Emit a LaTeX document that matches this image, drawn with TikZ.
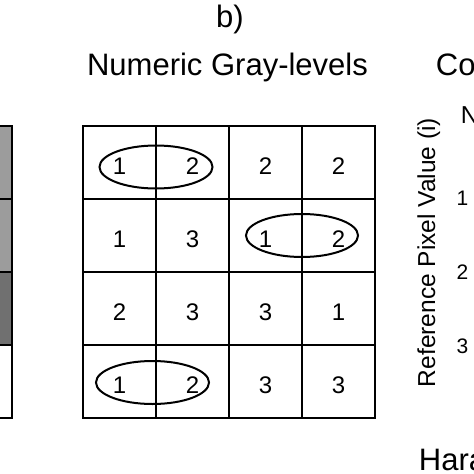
\documentclass[tikz,border=0pt]{standalone}
\usepackage{fontspec}
\setmainfont{Liberation Sans}
\usetikzlibrary{positioning,calc}
\definecolor{leveldark}{RGB}{112,112,112}
\definecolor{levelmid}{RGB}{156,156,156}

\begin{document}
\begin{tikzpicture}[x=1pt, y=-1pt, node distance=0pt, line width=1.8pt,
    cell/.style={rectangle, draw, outer sep=0pt, inner sep=0pt, minimum width=73pt, minimum height=73pt, text height=23pt, text depth=0pt, font=\fontsize{24}{28}\selectfont},
    heading/.style={inner sep=0pt, font=\fontsize{31}{36}\selectfont},
    axislabel/.style={inner sep=0pt, font=\fontsize{24.5}{28}\selectfont},
    pairring/.style={draw, line width=2pt}]
        \path[use as bounding box] (0,0) rectangle (474,474);
        \clip (0,0) rectangle (474,474);

        \node[heading, anchor=base] (panel) at (230,27) {b)};
        \node[heading, anchor=base] (title) at (227.5,75) {Numeric Gray-levels};
        \node[heading, anchor=base west] (cotitle) at (435,75) {Co};

        % numeric grid
        \node[cell] (c11) at (119.5,162.5) {1};
        \node[cell, right=of c11] (c12) {2};
        \node[cell, right=of c12] (c13) {2};
        \node[cell, right=of c13] (c14) {2};
        \node[cell, below=of c11] (c21) {1};
        \node[cell, right=of c21] (c22) {3};
        \node[cell, right=of c22] (c23) {1};
        \node[cell, right=of c23] (c24) {2};
        \node[cell, below=of c21] (c31) {2};
        \node[cell, right=of c31] (c32) {3};
        \node[cell, right=of c32] (c33) {3};
        \node[cell, right=of c33] (c34) {1};
        \node[cell, below=of c31] (c41) {1};
        \node[cell, right=of c41] (c42) {2};
        \node[cell, right=of c42] (c43) {3};
        \node[cell, right=of c43] (c44) {3};

        % gray-level image (cut at the left edge)
        \node[cell, fill=levelmid, left=71pt of c11] (g1) {};
        \node[cell, fill=levelmid, below=of g1] (g2) {};
        \node[cell, fill=leveldark, below=of g2] (g3) {};
        \node[cell, fill=white, below=of g3] (g4) {};

        % neighbouring pairs (1,2)
        \draw[pairring] ($(c11.east)+(0,4.5)$) ellipse [x radius=56.5, y radius=21.5];
        \draw[pairring] (c23.east) ellipse [x radius=56, y radius=21.5];
        \draw[pairring] ($(c41.east)+(-3.5,1)$) ellipse [x radius=56.5, y radius=21.5];

        % co-occurrence side
        \node[axislabel, rotate=90, anchor=base] (refaxis) at (435,252.5) {Reference Pixel Value (i)};
        \node[axislabel, anchor=base west] (nbaxis) at (460,123) {N};
        \node[axislabel, font=\fontsize{21}{24}\selectfont, anchor=base] (ref1) at (462.5,205) {1};
        \node[axislabel, font=\fontsize{21}{24}\selectfont, anchor=base] (ref2) at (462.5,279) {2};
        \node[axislabel, font=\fontsize{21}{24}\selectfont, anchor=base] (ref3) at (462.5,353) {3};
        \node[heading, anchor=base west] (haratitle) at (418,470) {Hara};
      \end{tikzpicture}
\end{document}
